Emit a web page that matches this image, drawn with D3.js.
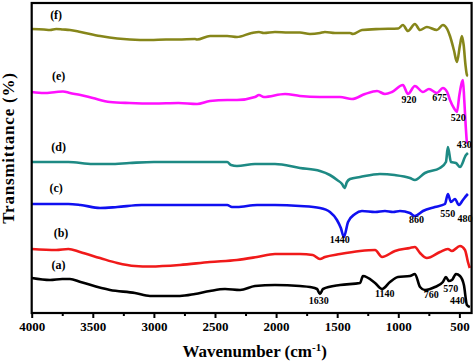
<!DOCTYPE html>
<html><head><meta charset="utf-8">
<script src="https://cdn.jsdelivr.net/npm/d3@7"></script>
<style>
html,body{margin:0;padding:0;background:#fff;}
text{font-family:"Liberation Serif","Times New Roman",serif;font-weight:bold;}
</style></head>
<body><svg id="c" width="474" height="364"></svg>
<script>
// [wavenumber (cm-1), relative transmittance (offset, arb. units)]
const seriesF = [[4000,284],[3900,283.5],[3850,283],[3800,284],[3744,283.5],[3687,283],[3600,281],[3440,277],[3300,274.5],[3196,273.5],[3030,273],[2900,273.5],[2800,273.5],[2664,274],[2647,273.5],[2540,277],[2400,277],[2320,276],[2200,280],[2140,281],[2100,280],[2009,281],[1900,280.5],[1805,280.5],[1723,279],[1640,280],[1600,281],[1518,280],[1395,280],[1371,279],[1297,283],[1150,284],[1000,284.5],[962,288],[921,282],[864,289],[822,283],[766,286],[684,283],[635,288],[600,284],[577,277],[545,263],[520,251],[495,268],[479,277],[465,268],[450,248],[438,238],[430,237]];
const seriesE = [[4000,221],[3900,220],[3800,221],[3744,221.5],[3687,220],[3600,218],[3500,215],[3359,211],[3200,210],[3000,209.5],[2800,210],[2647,209],[2542,212],[2400,213],[2320,213],[2173,216],[2140,218],[2100,216],[1927,219],[1805,217],[1641,216],[1477,216],[1379,214],[1272,219],[1174,222],[1109,219],[1052,221],[962,228],[921,219],[864,227],[798,221],[749,224],[684,220],[635,225],[600,221],[577,213],[545,205],[520,201],[500,218],[479,231],[471,233],[460,213],[446,183],[438,171],[430,170]];
const seriesD = [[4000,151],[3850,151],[3700,151],[3500,149],[3360,149],[3200,150],[3000,151],[2700,151],[2400,151],[2369,148],[2320,147],[2173,149],[2009,149],[1805,145],[1641,142],[1560,138],[1500,133],[1460,129],[1440,125],[1420,131],[1395,134],[1313,136],[1150,139],[1030,138],[905,135],[864,133],[782,140],[659,145],[610,151],[594,166],[569,151],[528,150],[495,146],[446,158],[430,160]];
const seriesC = [[4000,109],[3850,109],[3700,109],[3600,108],[3441,105],[3300,106],[3100,108],[2800,108],[2400,108],[2361,106],[2320,106],[2156,108],[2009,108],[1805,107],[1641,105],[1559,101],[1502,93],[1470,85],[1445,76],[1411,91],[1354,99],[1297,102],[1190,101],[1109,102],[1043,101],[986,102],[905,100],[864,97],[798,102],[700,106],[618,109],[594,119],[569,111],[536,114],[504,108],[471,113],[438,118],[430,119]];
const seriesB = [[4000,64],[3800,63],[3700,64],[3605,61],[3441,55],[3300,50],[3155,47],[3030,46.5],[2787,48],[2542,51],[2320,53],[2156,56],[2009,59],[1805,59],[1700,58],[1641,54],[1600,56],[1477,59],[1313,62],[1190,63],[1133,56],[1027,62],[905,65],[864,66],[822,60],[766,55],[659,61],[594,64],[561,62],[495,67],[454,63],[430,51],[415,45]];
const seriesA = [[4000,35],[3850,33],[3750,34],[3687,34],[3600,31],[3359,23],[3155,20],[3032,17],[2787,17],[2664,19],[2542,22],[2418,24],[2295,23],[2173,27],[2009,28],[1805,27],[1723,26],[1665,24],[1641,19],[1616,24],[1477,28],[1313,30],[1289,37],[1190,30],[1133,24],[1068,31],[1003,36],[905,37],[864,39],[822,26],[782,23],[700,26],[635,31],[610,36],[586,32],[561,33],[528,39],[495,37],[463,28],[438,8],[414,6]];

const seriesNames = ["(f)","(e)","(d)","(c)","(b)","(a)"];
const seriesColors = ["#86861a","#ff10ff","#1e8a84","#1010f0","#f01a1a","#000000"];
const seriesData = [seriesF,seriesE,seriesD,seriesC,seriesB,seriesA];
const seriesLabelAt = [[3800,294],[3780,233],[3780,162],[3800,121],[3760,76],[3780,44]];

const peakLabels = [["920",913,210],["675",660,212],["520",510,192],["430",460,165],
  ["1440",1480,70],["860",850,90],["550",595,96],["480",455,91],
  ["1630",1650,9],["1140",1110,16],["760",730,15],["570",570,21],["440",515,9]];

const xTicks = [4000,3500,3000,2500,2000,1500,1000,500];
const xMinor = [3750,3250,2750,2250,1750,1250,750];

const svg = d3.select("#c");
const L=31.7, R=471.6, T=3, B=313;
const x = d3.scaleLinear().domain([4000,400]).range([L,R]);
const y = d3.scaleLinear().domain([0,310]).range([B,T]);

const line = d3.line().x(d=>x(d[0])).y(d=>y(d[1])).curve(d3.curveMonotoneX);
seriesData.forEach((s,i)=>{
  svg.append("path").datum(s).attr("d",line).attr("fill","none")
    .attr("stroke",seriesColors[i]).attr("stroke-width",2.6).attr("stroke-linejoin","round");
});

seriesNames.forEach((n,i)=>{
  svg.append("text").attr("x",x(seriesLabelAt[i][0])).attr("y",y(seriesLabelAt[i][1]))
    .attr("font-size",12).attr("text-anchor","middle").text(n);
});
peakLabels.forEach(p=>{
  svg.append("text").attr("x",x(p[1])).attr("y",y(p[2])).attr("font-size",10)
    .attr("text-anchor","middle").text(p[0]);
});

// frame
svg.append("rect").attr("x",L).attr("y",T).attr("width",R-L).attr("height",B-T)
  .attr("fill","none").attr("stroke","#000").attr("stroke-width",2.2);

const ax = svg.append("g").attr("transform",`translate(0,${B})`)
  .call(d3.axisBottom(x).tickValues(xTicks).tickSize(5).tickPadding(4).tickFormat(d3.format("d")));
ax.select(".domain").remove();
ax.selectAll("line").attr("stroke-width",2);
ax.selectAll("text").attr("font-size",13).attr("font-family","Liberation Serif").attr("font-weight","bold").attr("fill","#000");
const axm = svg.append("g").attr("transform",`translate(0,${B})`)
  .call(d3.axisBottom(x).tickValues(xMinor).tickSize(3).tickFormat(""));
axm.select(".domain").remove();
axm.selectAll("line").attr("stroke-width",2);

svg.append("text").attr("x",(L+R)/2+3).attr("y",357).attr("text-anchor","middle")
  .attr("font-size",17).html('Wavenumber (cm<tspan dy="-6" font-size="11">-1</tspan><tspan dy="6">)</tspan>');
svg.append("text").attr("transform","translate(14,148) rotate(-90)").attr("text-anchor","middle")
  .attr("font-size",17).attr("letter-spacing",0.8).text("Transmittance (%)");
</script></body></html>
